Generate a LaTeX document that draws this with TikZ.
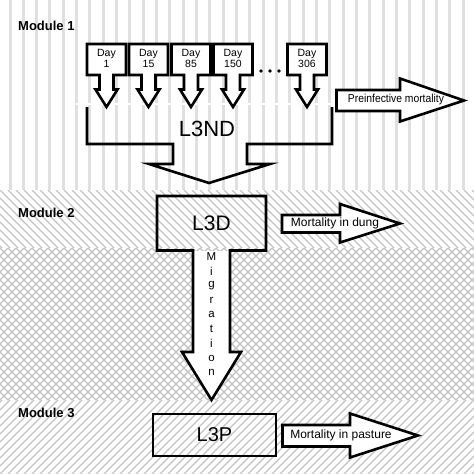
\documentclass[tikz,border=0pt]{standalone}
\usepackage{fontspec}
\setmainfont{Liberation Sans}
\definecolor{stripe}{HTML}{E0E0E0}
\definecolor{hatch}{HTML}{C2C2C2}
\tikzset{
  outl/.style={draw=black,line width=2.6pt,line join=miter},
  woutl/.style={outl,fill=white},
  hline/.style={draw=hatch,line width=1.3pt},
  modlabel/.style={anchor=base west,inner sep=0pt,font=\fontsize{13}{13}\selectfont\bfseries},
  daytxt/.style={align=center,inner sep=0pt,font=\fontsize{10.5}{10.6}\selectfont},
  bigtxt/.style={inner sep=0pt,font=\fontsize{21}{21}\selectfont},
  mtxt/.style={inner sep=0pt,font=\fontsize{12}{12}\selectfont},
  migtxt/.style={inner sep=0pt,font=\fontsize{11.5}{11.5}\selectfont}
}
\begin{document}
\begin{tikzpicture}[x=1pt,y=-1pt]
\useasboundingbox (0,0) rectangle (474,474);
\fill[white] (0,0) rectangle (474,474);
% Module 1 background: vertical stripes
\foreach \x in {10,23.33,...,480} \fill[stripe] (\x-1.5,0) rectangle (\x+1.5,190);
\draw[white,line width=2pt] (76,104) -- (334,104);
% Module 2 top: backslash hatching
\begin{scope}
\clip (0,190) rectangle (474,248);
\foreach \x in {-72,-64,...,480} \draw[hline] (\x,190) -- (\x+58,248);
\end{scope}
% crosshatch
\begin{scope}
\clip (0,248) rectangle (474,400);
\foreach \x in {-160,-152,...,480} {
  \draw[hline] (\x,248) -- (\x+152,400);
  \draw[hline] (\x,400) -- (\x+152,248);
}
\end{scope}
% Module 3: slash hatching
\begin{scope}
\clip (0,400) rectangle (474,474);
\foreach \x in {-80,-72,...,480} \draw[hline] (\x,474) -- (\x+74,400);
\end{scope}

% Module labels
\node[modlabel] (m1) at (18,30.5) {Module 1};
\node[modlabel] (m2) at (18,217.5) {Module 2};
\node[modlabel] (m3) at (18,417.5) {Module 3};

% Day boxes with down arrows
\foreach \cx/\d [count=\i] in {106.5/1,148.5/15,191/85,233/150,307/306} {
  \draw[woutl] (\cx-19.5,44) -- (\cx+19.5,44) -- (\cx+19.5,75) -- (\cx+7,75) -- (\cx+7,89.5)
     -- (\cx+11,89.5) -- (\cx,107) -- (\cx-11,89.5) -- (\cx-7,89.5) -- (\cx-7,75) -- (\cx-19.5,75) -- cycle;
  \node[daytxt] (day\i) at (\cx,58.5) {Day\\\d};
}
\foreach \x [count=\i] in {261,270,279} \fill (\x,71) circle (1.9) coordinate (dot\i);

% L3ND collector arrow
\draw[outl] (87,107) -- (87,144) -- (173,144) -- (173,164) -- (149,164) -- (209,183)
   -- (270,164) -- (247,164) -- (247,144) -- (332,144) -- (332,107);
\node[bigtxt,font=\fontsize{22}{22}\selectfont] (l3nd) at (207,129) {L3ND};

% Preinfective mortality arrow
\draw[woutl] (336.5,90) -- (400,90) -- (400,78.5) -- (464,100.5) -- (400,121.5) -- (400,111) -- (336.5,111) -- cycle;
\node[inner sep=0pt,xscale=0.9,font=\fontsize{11.5}{11.5}\selectfont] (pre) at (396,100) {Preinfective mortality};

% L3D box with migration arrow
\fill[white] (193,251) -- (230,251) -- (230,352) -- (241,352) -- (211.5,400) -- (182,352) -- (193,352) -- cycle;
\draw[outl] (157,196) -- (266,196) -- (266,250.5) -- (230,250.5) -- (230,352) -- (241,352) -- (211.5,400)
   -- (182,352) -- (193,352) -- (193,250.5) -- (157,250.5) -- cycle;
\node[bigtxt] (l3d) at (211.5,223) {L3D};
\foreach \c [count=\i] in {M,i,g,r,a,t,i,o,n}
  \node[migtxt] (mig\i) at (211.5,256.5+14.5*\i-14.5) {\c};

% Mortality in dung arrow
\draw[woutl] (282,215) -- (340,215) -- (340,204) -- (400,223.5) -- (340,242.5) -- (340,232.5) -- (282,232.5) -- cycle;
\node[mtxt] (dung) at (335,223.5) {Mortality in dung};

% L3P box
\draw[outl] (153,414) rectangle (276,456);
\node[bigtxt,font=\fontsize{20}{20}\selectfont] (l3p) at (214.5,435) {L3P};

% Mortality in pasture arrow
\draw[woutl] (282.5,425) -- (350,425) -- (350,413.5) -- (418,435.5) -- (350,457.5) -- (350,446.5) -- (282.5,446.5) -- cycle;
\node[mtxt] (past) at (341,435.5) {Mortality in pasture};
\end{tikzpicture}
\end{document}
